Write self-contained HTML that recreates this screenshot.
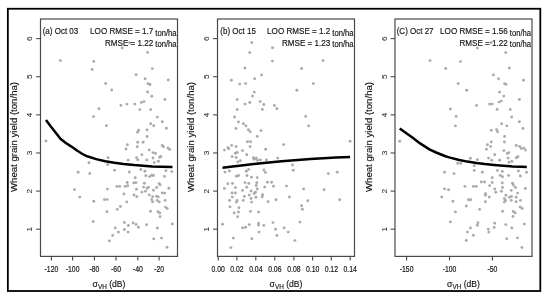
<!DOCTYPE html>
<html><head><meta charset="utf-8"><title>Wheat grain yield vs sigma VH</title>
<style>
html,body{margin:0;padding:0;background:#fff;}
svg{display:block;}
text{font-family:"Liberation Sans", Arial, sans-serif;}
.b{stroke:#141414;stroke-width:0.15px;}
</style></head><body>
<svg width="550" height="299" viewBox="0 0 550 299">
<rect x="0" y="0" width="550" height="299" fill="#fff"/>
<g fill="#aaaaaa"><circle cx="60.4" cy="60.6" r="1.45"/><circle cx="93.8" cy="61.4" r="1.45"/><circle cx="92.2" cy="69.4" r="1.45"/><circle cx="105.7" cy="83.5" r="1.45"/><circle cx="122.2" cy="48.0" r="1.45"/><circle cx="129.6" cy="42.8" r="1.45"/><circle cx="147.6" cy="52.4" r="1.45"/><circle cx="152.3" cy="68.6" r="1.45"/><circle cx="136.1" cy="74.8" r="1.45"/><circle cx="145.1" cy="78.8" r="1.45"/><circle cx="168.2" cy="80.0" r="1.45"/><circle cx="148.1" cy="83.7" r="1.45"/><circle cx="150.0" cy="84.5" r="1.45"/><circle cx="98.9" cy="108.8" r="1.45"/><circle cx="93.5" cy="116.6" r="1.45"/><circle cx="106.4" cy="125.8" r="1.45"/><circle cx="111.7" cy="90.0" r="1.45"/><circle cx="147.6" cy="92.0" r="1.45"/><circle cx="151.8" cy="96.2" r="1.45"/><circle cx="164.9" cy="99.4" r="1.45"/><circle cx="120.9" cy="105.4" r="1.45"/><circle cx="126.9" cy="104.1" r="1.45"/><circle cx="134.8" cy="104.1" r="1.45"/><circle cx="141.4" cy="102.4" r="1.45"/><circle cx="144.0" cy="101.6" r="1.45"/><circle cx="139.8" cy="109.6" r="1.45"/><circle cx="150.6" cy="109.6" r="1.45"/><circle cx="157.3" cy="117.1" r="1.45"/><circle cx="162.3" cy="121.8" r="1.45"/><circle cx="150.6" cy="123.8" r="1.45"/><circle cx="153.7" cy="125.8" r="1.45"/><circle cx="138.6" cy="130.2" r="1.45"/><circle cx="137.6" cy="132.3" r="1.45"/><circle cx="137.7" cy="142.2" r="1.45"/><circle cx="143.1" cy="142.2" r="1.45"/><circle cx="127.4" cy="144.7" r="1.45"/><circle cx="137.3" cy="146.8" r="1.45"/><circle cx="126.0" cy="149.0" r="1.45"/><circle cx="147.1" cy="129.9" r="1.45"/><circle cx="166.4" cy="128.3" r="1.45"/><circle cx="147.1" cy="136.5" r="1.45"/><circle cx="162.2" cy="145.5" r="1.45"/><circle cx="163.4" cy="146.8" r="1.45"/><circle cx="168.0" cy="148.0" r="1.45"/><circle cx="169.7" cy="149.5" r="1.45"/><circle cx="149.2" cy="150.0" r="1.45"/><circle cx="45.9" cy="141.0" r="1.45"/><circle cx="89.0" cy="162.8" r="1.45"/><circle cx="108.0" cy="157.8" r="1.45"/><circle cx="107.7" cy="164.5" r="1.45"/><circle cx="78.1" cy="172.3" r="1.45"/><circle cx="89.8" cy="173.5" r="1.45"/><circle cx="141.9" cy="154.7" r="1.45"/><circle cx="136.5" cy="157.6" r="1.45"/><circle cx="137.7" cy="159.7" r="1.45"/><circle cx="128.1" cy="160.1" r="1.45"/><circle cx="114.5" cy="170.2" r="1.45"/><circle cx="129.3" cy="172.0" r="1.45"/><circle cx="140.9" cy="169.5" r="1.45"/><circle cx="144.9" cy="171.2" r="1.45"/><circle cx="153.0" cy="152.6" r="1.45"/><circle cx="155.5" cy="153.4" r="1.45"/><circle cx="153.0" cy="158.0" r="1.45"/><circle cx="159.7" cy="157.2" r="1.45"/><circle cx="160.9" cy="156.4" r="1.45"/><circle cx="146.8" cy="160.0" r="1.45"/><circle cx="158.4" cy="161.2" r="1.45"/><circle cx="154.2" cy="162.6" r="1.45"/><circle cx="165.9" cy="170.8" r="1.45"/><circle cx="171.8" cy="171.6" r="1.45"/><circle cx="74.4" cy="189.6" r="1.45"/><circle cx="107.4" cy="189.1" r="1.45"/><circle cx="79.8" cy="197.1" r="1.45"/><circle cx="93.8" cy="201.3" r="1.45"/><circle cx="104.4" cy="199.6" r="1.45"/><circle cx="107.2" cy="199.6" r="1.45"/><circle cx="106.9" cy="211.8" r="1.45"/><circle cx="93.2" cy="221.5" r="1.45"/><circle cx="135.2" cy="177.7" r="1.45"/><circle cx="127.2" cy="182.5" r="1.45"/><circle cx="133.8" cy="182.9" r="1.45"/><circle cx="136.0" cy="182.6" r="1.45"/><circle cx="116.8" cy="186.4" r="1.45"/><circle cx="119.7" cy="186.4" r="1.45"/><circle cx="125.2" cy="186.4" r="1.45"/><circle cx="127.7" cy="185.8" r="1.45"/><circle cx="136.5" cy="189.2" r="1.45"/><circle cx="144.4" cy="183.3" r="1.45"/><circle cx="143.6" cy="187.1" r="1.45"/><circle cx="145.8" cy="175.7" r="1.45"/><circle cx="123.9" cy="194.0" r="1.45"/><circle cx="141.9" cy="192.1" r="1.45"/><circle cx="134.0" cy="195.0" r="1.45"/><circle cx="136.8" cy="196.6" r="1.45"/><circle cx="145.5" cy="191.2" r="1.45"/><circle cx="149.6" cy="176.6" r="1.45"/><circle cx="151.7" cy="175.3" r="1.45"/><circle cx="153.4" cy="175.5" r="1.45"/><circle cx="164.5" cy="176.4" r="1.45"/><circle cx="159.1" cy="183.6" r="1.45"/><circle cx="160.0" cy="184.8" r="1.45"/><circle cx="148.4" cy="187.1" r="1.45"/><circle cx="147.2" cy="188.2" r="1.45"/><circle cx="156.7" cy="187.5" r="1.45"/><circle cx="168.9" cy="188.3" r="1.45"/><circle cx="153.4" cy="190.2" r="1.45"/><circle cx="162.2" cy="192.9" r="1.45"/><circle cx="164.7" cy="193.1" r="1.45"/><circle cx="149.2" cy="194.9" r="1.45"/><circle cx="152.6" cy="196.8" r="1.45"/><circle cx="156.7" cy="196.3" r="1.45"/><circle cx="158.3" cy="196.9" r="1.45"/><circle cx="126.8" cy="201.9" r="1.45"/><circle cx="120.4" cy="206.5" r="1.45"/><circle cx="117.2" cy="209.4" r="1.45"/><circle cx="151.7" cy="199.6" r="1.45"/><circle cx="152.6" cy="201.7" r="1.45"/><circle cx="157.2" cy="200.4" r="1.45"/><circle cx="159.2" cy="201.9" r="1.45"/><circle cx="165.1" cy="200.4" r="1.45"/><circle cx="165.5" cy="207.1" r="1.45"/><circle cx="167.2" cy="208.4" r="1.45"/><circle cx="150.5" cy="211.3" r="1.45"/><circle cx="158.0" cy="211.7" r="1.45"/><circle cx="159.7" cy="213.0" r="1.45"/><circle cx="160.1" cy="216.6" r="1.45"/><circle cx="109.4" cy="240.9" r="1.45"/><circle cx="124.4" cy="222.5" r="1.45"/><circle cx="128.4" cy="225.4" r="1.45"/><circle cx="133.1" cy="223.0" r="1.45"/><circle cx="136.1" cy="224.5" r="1.45"/><circle cx="138.4" cy="227.2" r="1.45"/><circle cx="146.5" cy="224.7" r="1.45"/><circle cx="115.2" cy="228.0" r="1.45"/><circle cx="124.4" cy="229.5" r="1.45"/><circle cx="118.4" cy="232.1" r="1.45"/><circle cx="128.1" cy="232.1" r="1.45"/><circle cx="112.7" cy="235.4" r="1.45"/><circle cx="157.3" cy="228.0" r="1.45"/><circle cx="172.4" cy="223.9" r="1.45"/><circle cx="153.7" cy="238.9" r="1.45"/><circle cx="161.5" cy="238.1" r="1.45"/><circle cx="167.0" cy="247.3" r="1.45"/></g>
<path d="M46.0 119.9 L50.8 126.5 L56.0 133.1 L60.4 138.7 L65.5 142.7 L71.4 146.6 L77.3 150.8 L82.5 154.0 L87.1 156.3 L96.2 159.1 L105.3 161.2 L114.4 162.7 L123.5 163.9 L134.1 165.0 L143.2 165.7 L152.3 166.4 L161.4 166.8 L172.5 167.1" fill="none" stroke="#000" stroke-width="2.5" stroke-linejoin="round" stroke-linecap="butt"/>
<rect x="40.50" y="19.00" width="137.00" height="237.40" fill="none" stroke="#4a4a4a" stroke-width="1.2"/>
<line x1="51.40" y1="256.40" x2="51.40" y2="260.5" stroke="#4a4a4a" stroke-width="1.1"/>
<text class="b" transform="translate(51.40 271.90) scale(1.000 1.240)" font-size="6.85" text-anchor="middle" fill="#141414">-120</text>
<line x1="72.60" y1="256.40" x2="72.60" y2="260.5" stroke="#4a4a4a" stroke-width="1.1"/>
<text class="b" transform="translate(72.60 271.90) scale(1.000 1.240)" font-size="6.85" text-anchor="middle" fill="#141414">-100</text>
<line x1="94.40" y1="256.40" x2="94.40" y2="260.5" stroke="#4a4a4a" stroke-width="1.1"/>
<text class="b" transform="translate(94.40 271.90) scale(1.000 1.240)" font-size="6.85" text-anchor="middle" fill="#141414">-80</text>
<line x1="116.00" y1="256.40" x2="116.00" y2="260.5" stroke="#4a4a4a" stroke-width="1.1"/>
<text class="b" transform="translate(116.00 271.90) scale(1.000 1.240)" font-size="6.85" text-anchor="middle" fill="#141414">-60</text>
<line x1="137.80" y1="256.40" x2="137.80" y2="260.5" stroke="#4a4a4a" stroke-width="1.1"/>
<text class="b" transform="translate(137.80 271.90) scale(1.000 1.240)" font-size="6.85" text-anchor="middle" fill="#141414">-40</text>
<line x1="159.10" y1="256.40" x2="159.10" y2="260.5" stroke="#4a4a4a" stroke-width="1.1"/>
<text class="b" transform="translate(159.10 271.90) scale(1.000 1.240)" font-size="6.85" text-anchor="middle" fill="#141414">-20</text>
<line x1="40.50" y1="229.20" x2="36.10" y2="229.20" stroke="#4a4a4a" stroke-width="1.1"/>
<text transform="translate(32.00 229.20) rotate(-90) scale(1.050 1.000)" font-size="7.90" text-anchor="middle" fill="#141414">1</text>
<line x1="40.50" y1="191.08" x2="36.10" y2="191.08" stroke="#4a4a4a" stroke-width="1.1"/>
<text transform="translate(32.00 191.08) rotate(-90) scale(1.050 1.000)" font-size="7.90" text-anchor="middle" fill="#141414">2</text>
<line x1="40.50" y1="152.96" x2="36.10" y2="152.96" stroke="#4a4a4a" stroke-width="1.1"/>
<text transform="translate(32.00 152.96) rotate(-90) scale(1.050 1.000)" font-size="7.90" text-anchor="middle" fill="#141414">3</text>
<line x1="40.50" y1="114.84" x2="36.10" y2="114.84" stroke="#4a4a4a" stroke-width="1.1"/>
<text transform="translate(32.00 114.84) rotate(-90) scale(1.050 1.000)" font-size="7.90" text-anchor="middle" fill="#141414">4</text>
<line x1="40.50" y1="76.72" x2="36.10" y2="76.72" stroke="#4a4a4a" stroke-width="1.1"/>
<text transform="translate(32.00 76.72) rotate(-90) scale(1.050 1.000)" font-size="7.90" text-anchor="middle" fill="#141414">5</text>
<line x1="40.50" y1="38.60" x2="36.10" y2="38.60" stroke="#4a4a4a" stroke-width="1.1"/>
<text transform="translate(32.00 38.60) rotate(-90) scale(1.050 1.000)" font-size="7.90" text-anchor="middle" fill="#141414">6</text>
<text class="b" transform="translate(17.20 137.00) rotate(-90) scale(1.147 1.000)" font-size="8.40" text-anchor="middle" fill="#141414">Wheat grain yield (ton/ha)</text>
<text class="b" transform="translate(109.00 286.6) scale(1 1.08)" font-size="8.6" text-anchor="middle" fill="#141414">σ<tspan font-size="6.4" dy="2.6">VH</tspan><tspan dy="-2.6"> (dB)</tspan></text>
<text class="b" transform="translate(42.70 33.90) scale(1.000 1.150)" font-size="8.00" text-anchor="start" fill="#141414">(a) Oct 03</text>
<text class="b" transform="translate(153.30 33.80) scale(1.000 1.150)" font-size="8.10" text-anchor="end" fill="#141414">LOO RMSE = 1.7</text>
<text class="b" transform="translate(155.30 35.70) scale(1.000 1.150)" font-size="7.63" text-anchor="start" fill="#141414">ton/ha</text>
<text class="b" transform="translate(153.30 45.80) scale(1.000 1.150)" font-size="8.10" text-anchor="end" fill="#141414">RMSE = 1.22</text>
<text class="b" transform="translate(155.30 47.00) scale(1.000 1.150)" font-size="7.63" text-anchor="start" fill="#141414">ton/ha</text>
<g fill="#aaaaaa"><circle cx="251.8" cy="42.6" r="1.45"/><circle cx="249.8" cy="52.6" r="1.45"/><circle cx="272.4" cy="47.8" r="1.45"/><circle cx="272.4" cy="61.1" r="1.45"/><circle cx="244.9" cy="68.0" r="1.45"/><circle cx="323.0" cy="60.6" r="1.45"/><circle cx="301.6" cy="68.5" r="1.45"/><circle cx="261.5" cy="74.9" r="1.45"/><circle cx="231.4" cy="80.2" r="1.45"/><circle cx="254.6" cy="78.7" r="1.45"/><circle cx="239.7" cy="84.1" r="1.45"/><circle cx="245.6" cy="83.6" r="1.45"/><circle cx="254.3" cy="92.1" r="1.45"/><circle cx="252.6" cy="96.1" r="1.45"/><circle cx="237.2" cy="99.5" r="1.45"/><circle cx="245.1" cy="104.1" r="1.45"/><circle cx="249.8" cy="102.5" r="1.45"/><circle cx="260.2" cy="101.6" r="1.45"/><circle cx="263.8" cy="104.5" r="1.45"/><circle cx="274.4" cy="105.5" r="1.45"/><circle cx="276.9" cy="108.8" r="1.45"/><circle cx="237.2" cy="109.5" r="1.45"/><circle cx="262.3" cy="109.5" r="1.45"/><circle cx="313.3" cy="83.6" r="1.45"/><circle cx="296.9" cy="90.3" r="1.45"/><circle cx="234.6" cy="117.0" r="1.45"/><circle cx="238.4" cy="122.0" r="1.45"/><circle cx="243.4" cy="123.7" r="1.45"/><circle cx="245.9" cy="125.9" r="1.45"/><circle cx="235.9" cy="128.4" r="1.45"/><circle cx="248.4" cy="129.7" r="1.45"/><circle cx="250.1" cy="131.7" r="1.45"/><circle cx="261.0" cy="130.6" r="1.45"/><circle cx="257.3" cy="136.4" r="1.45"/><circle cx="247.5" cy="141.8" r="1.45"/><circle cx="250.5" cy="141.8" r="1.45"/><circle cx="250.1" cy="146.6" r="1.45"/><circle cx="231.6" cy="145.4" r="1.45"/><circle cx="236.1" cy="146.6" r="1.45"/><circle cx="227.9" cy="147.6" r="1.45"/><circle cx="228.7" cy="148.7" r="1.45"/><circle cx="224.4" cy="150.1" r="1.45"/><circle cx="242.5" cy="150.6" r="1.45"/><circle cx="235.4" cy="153.3" r="1.45"/><circle cx="237.3" cy="152.5" r="1.45"/><circle cx="246.7" cy="154.7" r="1.45"/><circle cx="232.1" cy="156.6" r="1.45"/><circle cx="236.1" cy="157.4" r="1.45"/><circle cx="253.4" cy="157.7" r="1.45"/><circle cx="254.2" cy="159.3" r="1.45"/><circle cx="283.6" cy="144.6" r="1.45"/><circle cx="265.6" cy="149.3" r="1.45"/><circle cx="256.3" cy="158.1" r="1.45"/><circle cx="257.6" cy="160.2" r="1.45"/><circle cx="260.5" cy="159.9" r="1.45"/><circle cx="266.4" cy="159.9" r="1.45"/><circle cx="277.7" cy="158.1" r="1.45"/><circle cx="237.8" cy="162.0" r="1.45"/><circle cx="240.4" cy="160.8" r="1.45"/><circle cx="225.0" cy="172.1" r="1.45"/><circle cx="229.4" cy="170.9" r="1.45"/><circle cx="246.3" cy="171.3" r="1.45"/><circle cx="248.6" cy="169.4" r="1.45"/><circle cx="236.4" cy="176.3" r="1.45"/><circle cx="238.6" cy="175.5" r="1.45"/><circle cx="247.0" cy="175.5" r="1.45"/><circle cx="251.5" cy="177.2" r="1.45"/><circle cx="227.9" cy="183.8" r="1.45"/><circle cx="232.5" cy="183.4" r="1.45"/><circle cx="245.0" cy="182.6" r="1.45"/><circle cx="248.8" cy="183.4" r="1.45"/><circle cx="263.9" cy="170.0" r="1.45"/><circle cx="265.4" cy="172.4" r="1.45"/><circle cx="257.2" cy="177.6" r="1.45"/><circle cx="256.8" cy="182.8" r="1.45"/><circle cx="267.4" cy="182.2" r="1.45"/><circle cx="271.6" cy="182.2" r="1.45"/><circle cx="305.7" cy="116.4" r="1.45"/><circle cx="308.6" cy="125.9" r="1.45"/><circle cx="350.1" cy="141.3" r="1.45"/><circle cx="292.5" cy="165.0" r="1.45"/><circle cx="293.2" cy="170.2" r="1.45"/><circle cx="328.3" cy="173.6" r="1.45"/><circle cx="337.2" cy="172.2" r="1.45"/><circle cx="286.5" cy="186.1" r="1.45"/><circle cx="303.6" cy="188.9" r="1.45"/><circle cx="324.1" cy="189.8" r="1.45"/><circle cx="289.4" cy="197.0" r="1.45"/><circle cx="307.7" cy="200.8" r="1.45"/><circle cx="339.7" cy="199.8" r="1.45"/><circle cx="301.6" cy="205.8" r="1.45"/><circle cx="224.4" cy="188.4" r="1.45"/><circle cx="235.4" cy="187.6" r="1.45"/><circle cx="246.7" cy="187.2" r="1.45"/><circle cx="242.5" cy="190.4" r="1.45"/><circle cx="251.1" cy="191.0" r="1.45"/><circle cx="254.2" cy="193.5" r="1.45"/><circle cx="232.1" cy="193.0" r="1.45"/><circle cx="235.4" cy="193.0" r="1.45"/><circle cx="249.2" cy="195.1" r="1.45"/><circle cx="244.4" cy="196.4" r="1.45"/><circle cx="232.3" cy="197.1" r="1.45"/><circle cx="251.1" cy="198.5" r="1.45"/><circle cx="229.6" cy="200.4" r="1.45"/><circle cx="237.1" cy="200.4" r="1.45"/><circle cx="236.4" cy="202.1" r="1.45"/><circle cx="243.2" cy="200.4" r="1.45"/><circle cx="251.6" cy="202.1" r="1.45"/><circle cx="230.0" cy="206.9" r="1.45"/><circle cx="238.9" cy="207.8" r="1.45"/><circle cx="256.3" cy="185.5" r="1.45"/><circle cx="264.7" cy="187.0" r="1.45"/><circle cx="273.5" cy="186.3" r="1.45"/><circle cx="257.2" cy="189.0" r="1.45"/><circle cx="255.5" cy="192.2" r="1.45"/><circle cx="262.6" cy="194.7" r="1.45"/><circle cx="262.2" cy="196.8" r="1.45"/><circle cx="255.9" cy="197.2" r="1.45"/><circle cx="276.0" cy="199.7" r="1.45"/><circle cx="268.1" cy="201.8" r="1.45"/><circle cx="234.2" cy="213.0" r="1.45"/><circle cx="238.4" cy="212.0" r="1.45"/><circle cx="237.6" cy="216.7" r="1.45"/><circle cx="250.5" cy="211.4" r="1.45"/><circle cx="258.5" cy="212.0" r="1.45"/><circle cx="222.5" cy="224.2" r="1.45"/><circle cx="242.6" cy="227.9" r="1.45"/><circle cx="245.6" cy="227.2" r="1.45"/><circle cx="249.3" cy="224.6" r="1.45"/><circle cx="258.5" cy="223.1" r="1.45"/><circle cx="258.5" cy="225.1" r="1.45"/><circle cx="263.8" cy="225.4" r="1.45"/><circle cx="273.0" cy="222.6" r="1.45"/><circle cx="275.5" cy="229.2" r="1.45"/><circle cx="284.1" cy="227.9" r="1.45"/><circle cx="259.0" cy="232.1" r="1.45"/><circle cx="276.9" cy="235.4" r="1.45"/><circle cx="233.4" cy="238.1" r="1.45"/><circle cx="251.8" cy="238.8" r="1.45"/><circle cx="230.9" cy="247.6" r="1.45"/><circle cx="302.4" cy="209.2" r="1.45"/><circle cx="299.9" cy="222.1" r="1.45"/><circle cx="288.2" cy="232.1" r="1.45"/><circle cx="294.9" cy="240.6" r="1.45"/></g>
<path d="M222.5 167.7 L230.7 166.7 L243.4 165.2 L256.2 163.7 L268.9 162.4 L281.6 161.2 L297.7 160.0 L310.4 159.1 L323.2 158.2 L335.9 157.4 L350.1 156.9" fill="none" stroke="#000" stroke-width="2.5" stroke-linejoin="round" stroke-linecap="butt"/>
<rect x="217.50" y="19.00" width="137.00" height="237.40" fill="none" stroke="#4a4a4a" stroke-width="1.2"/>
<line x1="218.20" y1="256.40" x2="218.20" y2="260.5" stroke="#4a4a4a" stroke-width="1.1"/>
<text class="b" transform="translate(218.20 271.90) scale(1.000 1.240)" font-size="6.85" text-anchor="middle" fill="#141414">0.00</text>
<line x1="236.90" y1="256.40" x2="236.90" y2="260.5" stroke="#4a4a4a" stroke-width="1.1"/>
<text class="b" transform="translate(236.90 271.90) scale(1.000 1.240)" font-size="6.85" text-anchor="middle" fill="#141414">0.02</text>
<line x1="255.80" y1="256.40" x2="255.80" y2="260.5" stroke="#4a4a4a" stroke-width="1.1"/>
<text class="b" transform="translate(255.80 271.90) scale(1.000 1.240)" font-size="6.85" text-anchor="middle" fill="#141414">0.04</text>
<line x1="274.80" y1="256.40" x2="274.80" y2="260.5" stroke="#4a4a4a" stroke-width="1.1"/>
<text class="b" transform="translate(274.80 271.90) scale(1.000 1.240)" font-size="6.85" text-anchor="middle" fill="#141414">0.06</text>
<line x1="293.90" y1="256.40" x2="293.90" y2="260.5" stroke="#4a4a4a" stroke-width="1.1"/>
<text class="b" transform="translate(293.90 271.90) scale(1.000 1.240)" font-size="6.85" text-anchor="middle" fill="#141414">0.08</text>
<line x1="312.60" y1="256.40" x2="312.60" y2="260.5" stroke="#4a4a4a" stroke-width="1.1"/>
<text class="b" transform="translate(312.60 271.90) scale(1.000 1.240)" font-size="6.85" text-anchor="middle" fill="#141414">0.10</text>
<line x1="331.30" y1="256.40" x2="331.30" y2="260.5" stroke="#4a4a4a" stroke-width="1.1"/>
<text class="b" transform="translate(331.30 271.90) scale(1.000 1.240)" font-size="6.85" text-anchor="middle" fill="#141414">0.12</text>
<line x1="350.20" y1="256.40" x2="350.20" y2="260.5" stroke="#4a4a4a" stroke-width="1.1"/>
<text class="b" transform="translate(350.20 271.90) scale(1.000 1.240)" font-size="6.85" text-anchor="middle" fill="#141414">0.14</text>
<line x1="217.50" y1="229.20" x2="213.10" y2="229.20" stroke="#4a4a4a" stroke-width="1.1"/>
<text transform="translate(209.00 229.20) rotate(-90) scale(1.050 1.000)" font-size="7.90" text-anchor="middle" fill="#141414">1</text>
<line x1="217.50" y1="191.08" x2="213.10" y2="191.08" stroke="#4a4a4a" stroke-width="1.1"/>
<text transform="translate(209.00 191.08) rotate(-90) scale(1.050 1.000)" font-size="7.90" text-anchor="middle" fill="#141414">2</text>
<line x1="217.50" y1="152.96" x2="213.10" y2="152.96" stroke="#4a4a4a" stroke-width="1.1"/>
<text transform="translate(209.00 152.96) rotate(-90) scale(1.050 1.000)" font-size="7.90" text-anchor="middle" fill="#141414">3</text>
<line x1="217.50" y1="114.84" x2="213.10" y2="114.84" stroke="#4a4a4a" stroke-width="1.1"/>
<text transform="translate(209.00 114.84) rotate(-90) scale(1.050 1.000)" font-size="7.90" text-anchor="middle" fill="#141414">4</text>
<line x1="217.50" y1="76.72" x2="213.10" y2="76.72" stroke="#4a4a4a" stroke-width="1.1"/>
<text transform="translate(209.00 76.72) rotate(-90) scale(1.050 1.000)" font-size="7.90" text-anchor="middle" fill="#141414">5</text>
<line x1="217.50" y1="38.60" x2="213.10" y2="38.60" stroke="#4a4a4a" stroke-width="1.1"/>
<text transform="translate(209.00 38.60) rotate(-90) scale(1.050 1.000)" font-size="7.90" text-anchor="middle" fill="#141414">6</text>
<text class="b" transform="translate(194.20 137.00) rotate(-90) scale(1.147 1.000)" font-size="8.40" text-anchor="middle" fill="#141414">Wheat grain yield (ton/ha)</text>
<text class="b" transform="translate(286.00 286.6) scale(1 1.08)" font-size="8.6" text-anchor="middle" fill="#141414">σ<tspan font-size="6.4" dy="2.6">VH</tspan><tspan dy="-2.6"> (dB)</tspan></text>
<text class="b" transform="translate(220.30 34.20) scale(1.000 1.150)" font-size="8.00" text-anchor="start" fill="#141414">(b) Oct 15</text>
<text class="b" transform="translate(330.30 34.10) scale(1.000 1.150)" font-size="8.10" text-anchor="end" fill="#141414">LOO RMSE = 1.2</text>
<text class="b" transform="translate(332.30 36.00) scale(1.000 1.150)" font-size="7.63" text-anchor="start" fill="#141414">ton/ha</text>
<text class="b" transform="translate(330.30 46.10) scale(1.000 1.150)" font-size="8.10" text-anchor="end" fill="#141414">RMSE = 1.23</text>
<text class="b" transform="translate(332.30 47.30) scale(1.000 1.150)" font-size="7.63" text-anchor="start" fill="#141414">ton/ha</text>
<g fill="#aaaaaa"><circle cx="430.1" cy="60.6" r="1.45"/><circle cx="460.5" cy="61.6" r="1.45"/><circle cx="445.7" cy="68.5" r="1.45"/><circle cx="491.2" cy="42.8" r="1.45"/><circle cx="477.4" cy="48.1" r="1.45"/><circle cx="505.8" cy="52.6" r="1.45"/><circle cx="509.3" cy="68.0" r="1.45"/><circle cx="458.2" cy="83.6" r="1.45"/><circle cx="450.4" cy="109.0" r="1.45"/><circle cx="493.4" cy="74.9" r="1.45"/><circle cx="498.5" cy="78.7" r="1.45"/><circle cx="523.5" cy="80.2" r="1.45"/><circle cx="504.6" cy="83.6" r="1.45"/><circle cx="506.0" cy="84.4" r="1.45"/><circle cx="466.7" cy="90.3" r="1.45"/><circle cx="499.6" cy="92.1" r="1.45"/><circle cx="503.8" cy="96.1" r="1.45"/><circle cx="519.4" cy="99.5" r="1.45"/><circle cx="499.1" cy="102.1" r="1.45"/><circle cx="501.3" cy="101.1" r="1.45"/><circle cx="489.6" cy="104.1" r="1.45"/><circle cx="492.1" cy="104.1" r="1.45"/><circle cx="476.5" cy="105.5" r="1.45"/><circle cx="497.1" cy="109.5" r="1.45"/><circle cx="510.2" cy="109.5" r="1.45"/><circle cx="456.2" cy="116.4" r="1.45"/><circle cx="455.4" cy="125.9" r="1.45"/><circle cx="399.7" cy="141.3" r="1.45"/><circle cx="511.7" cy="117.0" r="1.45"/><circle cx="519.4" cy="121.7" r="1.45"/><circle cx="501.6" cy="123.7" r="1.45"/><circle cx="506.8" cy="125.9" r="1.45"/><circle cx="523.0" cy="128.4" r="1.45"/><circle cx="491.3" cy="130.4" r="1.45"/><circle cx="496.6" cy="129.6" r="1.45"/><circle cx="497.6" cy="131.7" r="1.45"/><circle cx="504.6" cy="136.4" r="1.45"/><circle cx="491.2" cy="142.0" r="1.45"/><circle cx="504.4" cy="142.0" r="1.45"/><circle cx="487.4" cy="144.7" r="1.45"/><circle cx="490.6" cy="146.6" r="1.45"/><circle cx="486.4" cy="149.3" r="1.45"/><circle cx="503.9" cy="150.6" r="1.45"/><circle cx="507.3" cy="153.5" r="1.45"/><circle cx="508.8" cy="152.6" r="1.45"/><circle cx="494.7" cy="154.7" r="1.45"/><circle cx="488.5" cy="158.1" r="1.45"/><circle cx="491.8" cy="160.2" r="1.45"/><circle cx="499.6" cy="160.2" r="1.45"/><circle cx="508.1" cy="158.1" r="1.45"/><circle cx="509.0" cy="162.3" r="1.45"/><circle cx="511.9" cy="161.4" r="1.45"/><circle cx="516.3" cy="145.5" r="1.45"/><circle cx="519.7" cy="146.5" r="1.45"/><circle cx="521.4" cy="148.5" r="1.45"/><circle cx="523.9" cy="148.1" r="1.45"/><circle cx="525.5" cy="150.1" r="1.45"/><circle cx="516.3" cy="157.7" r="1.45"/><circle cx="518.0" cy="156.8" r="1.45"/><circle cx="470.4" cy="158.2" r="1.45"/><circle cx="477.4" cy="159.7" r="1.45"/><circle cx="460.8" cy="163.4" r="1.45"/><circle cx="457.8" cy="163.3" r="1.45"/><circle cx="474.2" cy="165.8" r="1.45"/><circle cx="474.2" cy="170.4" r="1.45"/><circle cx="482.4" cy="172.2" r="1.45"/><circle cx="497.4" cy="170.4" r="1.45"/><circle cx="492.2" cy="177.7" r="1.45"/><circle cx="481.3" cy="182.0" r="1.45"/><circle cx="484.5" cy="182.0" r="1.45"/><circle cx="492.2" cy="182.5" r="1.45"/><circle cx="502.3" cy="171.4" r="1.45"/><circle cx="518.4" cy="171.0" r="1.45"/><circle cx="526.5" cy="172.2" r="1.45"/><circle cx="500.2" cy="175.4" r="1.45"/><circle cx="502.5" cy="176.8" r="1.45"/><circle cx="508.6" cy="175.4" r="1.45"/><circle cx="520.3" cy="176.0" r="1.45"/><circle cx="502.2" cy="183.0" r="1.45"/><circle cx="512.5" cy="183.2" r="1.45"/><circle cx="513.4" cy="185.0" r="1.45"/><circle cx="464.9" cy="186.4" r="1.45"/><circle cx="473.4" cy="186.4" r="1.45"/><circle cx="476.3" cy="186.4" r="1.45"/><circle cx="489.7" cy="185.6" r="1.45"/><circle cx="494.7" cy="189.0" r="1.45"/><circle cx="495.8" cy="192.3" r="1.45"/><circle cx="485.5" cy="193.6" r="1.45"/><circle cx="485.5" cy="195.2" r="1.45"/><circle cx="489.3" cy="197.1" r="1.45"/><circle cx="468.4" cy="199.8" r="1.45"/><circle cx="470.7" cy="199.8" r="1.45"/><circle cx="485.5" cy="201.8" r="1.45"/><circle cx="466.3" cy="206.0" r="1.45"/><circle cx="502.5" cy="187.5" r="1.45"/><circle cx="515.4" cy="187.5" r="1.45"/><circle cx="525.3" cy="188.5" r="1.45"/><circle cx="501.4" cy="191.2" r="1.45"/><circle cx="511.3" cy="190.4" r="1.45"/><circle cx="517.6" cy="193.1" r="1.45"/><circle cx="505.9" cy="195.2" r="1.45"/><circle cx="509.4" cy="197.3" r="1.45"/><circle cx="511.5" cy="196.5" r="1.45"/><circle cx="516.1" cy="197.3" r="1.45"/><circle cx="504.4" cy="198.6" r="1.45"/><circle cx="505.6" cy="200.4" r="1.45"/><circle cx="504.4" cy="201.9" r="1.45"/><circle cx="511.3" cy="200.4" r="1.45"/><circle cx="516.1" cy="201.8" r="1.45"/><circle cx="520.4" cy="200.4" r="1.45"/><circle cx="444.5" cy="172.2" r="1.45"/><circle cx="454.0" cy="173.6" r="1.45"/><circle cx="444.5" cy="188.9" r="1.45"/><circle cx="448.5" cy="189.8" r="1.45"/><circle cx="441.8" cy="197.0" r="1.45"/><circle cx="452.9" cy="201.2" r="1.45"/><circle cx="455.4" cy="211.9" r="1.45"/><circle cx="450.4" cy="221.9" r="1.45"/><circle cx="479.6" cy="209.4" r="1.45"/><circle cx="502.6" cy="211.2" r="1.45"/><circle cx="520.2" cy="207.0" r="1.45"/><circle cx="522.2" cy="208.5" r="1.45"/><circle cx="513.3" cy="211.5" r="1.45"/><circle cx="515.2" cy="212.9" r="1.45"/><circle cx="513.0" cy="216.5" r="1.45"/><circle cx="477.9" cy="222.7" r="1.45"/><circle cx="477.4" cy="225.2" r="1.45"/><circle cx="494.6" cy="223.2" r="1.45"/><circle cx="494.1" cy="227.4" r="1.45"/><circle cx="470.4" cy="227.9" r="1.45"/><circle cx="505.8" cy="224.6" r="1.45"/><circle cx="511.8" cy="227.9" r="1.45"/><circle cx="524.4" cy="224.1" r="1.45"/><circle cx="467.4" cy="232.1" r="1.45"/><circle cx="488.3" cy="229.1" r="1.45"/><circle cx="488.8" cy="232.1" r="1.45"/><circle cx="473.4" cy="235.3" r="1.45"/><circle cx="466.2" cy="240.5" r="1.45"/><circle cx="506.8" cy="238.8" r="1.45"/><circle cx="517.5" cy="237.9" r="1.45"/><circle cx="521.9" cy="247.5" r="1.45"/></g>
<path d="M399.7 128.4 L406.0 133.0 L412.7 137.8 L420.1 143.4 L429.4 149.4 L436.1 152.5 L444.8 156.0 L449.1 157.4 L458.2 159.7 L467.3 161.6 L476.4 163.0 L485.0 164.1 L494.1 165.0 L503.2 165.7 L512.3 166.4 L521.4 166.8 L526.8 167.1" fill="none" stroke="#000" stroke-width="2.5" stroke-linejoin="round" stroke-linecap="butt"/>
<rect x="395.00" y="19.00" width="137.00" height="237.40" fill="none" stroke="#4a4a4a" stroke-width="1.2"/>
<line x1="406.60" y1="256.40" x2="406.60" y2="260.5" stroke="#4a4a4a" stroke-width="1.1"/>
<text class="b" transform="translate(406.60 271.90) scale(1.000 1.240)" font-size="6.85" text-anchor="middle" fill="#141414">-150</text>
<line x1="449.50" y1="256.40" x2="449.50" y2="260.5" stroke="#4a4a4a" stroke-width="1.1"/>
<text class="b" transform="translate(449.50 271.90) scale(1.000 1.240)" font-size="6.85" text-anchor="middle" fill="#141414">-100</text>
<line x1="492.40" y1="256.40" x2="492.40" y2="260.5" stroke="#4a4a4a" stroke-width="1.1"/>
<text class="b" transform="translate(492.40 271.90) scale(1.000 1.240)" font-size="6.85" text-anchor="middle" fill="#141414">-50</text>
<line x1="395.00" y1="229.20" x2="390.60" y2="229.20" stroke="#4a4a4a" stroke-width="1.1"/>
<text transform="translate(386.50 229.20) rotate(-90) scale(1.050 1.000)" font-size="7.90" text-anchor="middle" fill="#141414">1</text>
<line x1="395.00" y1="191.08" x2="390.60" y2="191.08" stroke="#4a4a4a" stroke-width="1.1"/>
<text transform="translate(386.50 191.08) rotate(-90) scale(1.050 1.000)" font-size="7.90" text-anchor="middle" fill="#141414">2</text>
<line x1="395.00" y1="152.96" x2="390.60" y2="152.96" stroke="#4a4a4a" stroke-width="1.1"/>
<text transform="translate(386.50 152.96) rotate(-90) scale(1.050 1.000)" font-size="7.90" text-anchor="middle" fill="#141414">3</text>
<line x1="395.00" y1="114.84" x2="390.60" y2="114.84" stroke="#4a4a4a" stroke-width="1.1"/>
<text transform="translate(386.50 114.84) rotate(-90) scale(1.050 1.000)" font-size="7.90" text-anchor="middle" fill="#141414">4</text>
<line x1="395.00" y1="76.72" x2="390.60" y2="76.72" stroke="#4a4a4a" stroke-width="1.1"/>
<text transform="translate(386.50 76.72) rotate(-90) scale(1.050 1.000)" font-size="7.90" text-anchor="middle" fill="#141414">5</text>
<line x1="395.00" y1="38.60" x2="390.60" y2="38.60" stroke="#4a4a4a" stroke-width="1.1"/>
<text transform="translate(386.50 38.60) rotate(-90) scale(1.050 1.000)" font-size="7.90" text-anchor="middle" fill="#141414">6</text>
<text class="b" transform="translate(371.70 137.00) rotate(-90) scale(1.147 1.000)" font-size="8.40" text-anchor="middle" fill="#141414">Wheat grain yield (ton/ha)</text>
<text class="b" transform="translate(463.50 286.6) scale(1 1.08)" font-size="8.6" text-anchor="middle" fill="#141414">σ<tspan font-size="6.4" dy="2.6">VH</tspan><tspan dy="-2.6"> (dB)</tspan></text>
<text class="b" transform="translate(396.70 33.90) scale(1.000 1.150)" font-size="8.00" text-anchor="start" fill="#141414">(C) Oct 27</text>
<text class="b" transform="translate(507.80 33.80) scale(1.000 1.150)" font-size="8.10" text-anchor="end" fill="#141414">LOO RMSE = 1.56</text>
<text class="b" transform="translate(509.80 35.70) scale(1.000 1.150)" font-size="7.63" text-anchor="start" fill="#141414">ton/ha</text>
<text class="b" transform="translate(507.80 45.80) scale(1.000 1.150)" font-size="8.10" text-anchor="end" fill="#141414">RMSE = 1.22</text>
<text class="b" transform="translate(509.80 47.00) scale(1.000 1.150)" font-size="7.63" text-anchor="start" fill="#141414">ton/ha</text>
<rect x="7.85" y="8.75" width="532.45" height="282.25" fill="none" stroke="#000" stroke-width="1.8"/>
</svg>
</body></html>
